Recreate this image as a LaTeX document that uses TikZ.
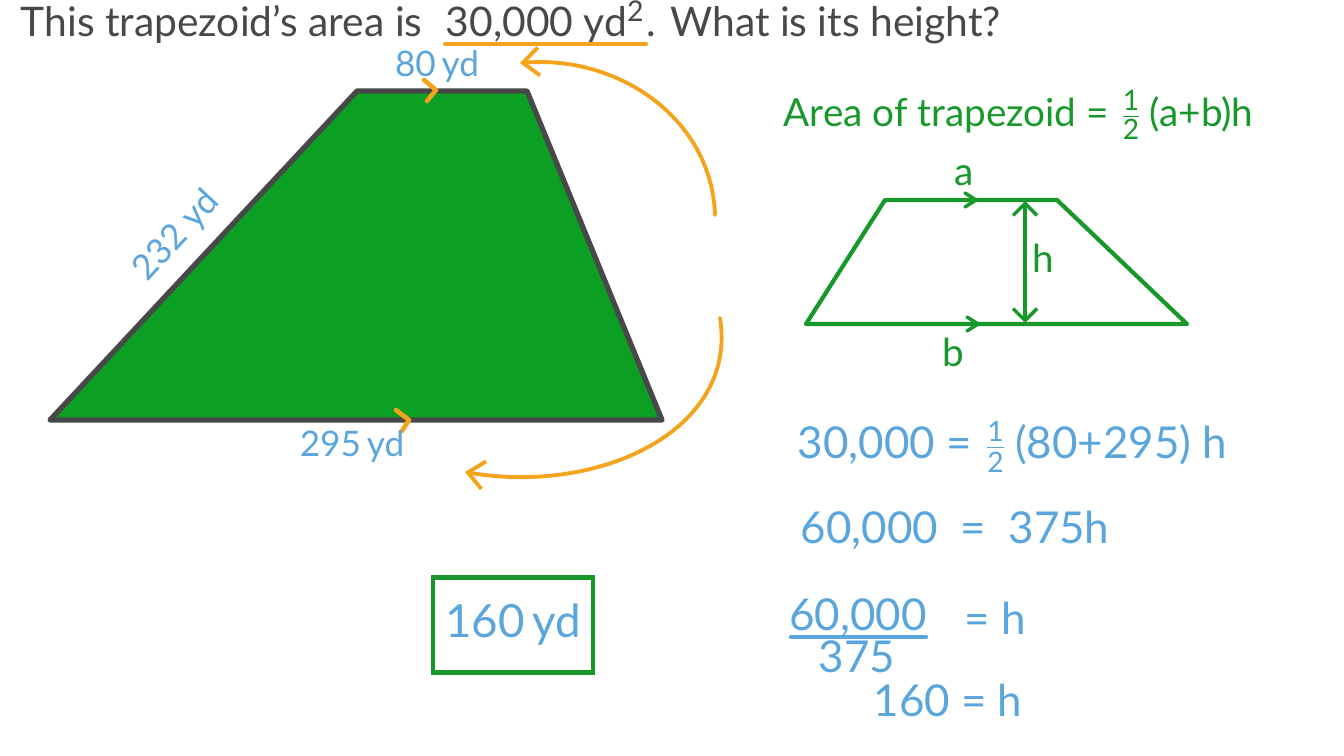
\documentclass[tikz,border=0pt]{standalone}
\usepackage{fontspec}
\setmainfont{Lato}
\usetikzlibrary{arrows.meta,positioning}
\definecolor{inkgray}{RGB}{72,72,72}
\definecolor{fillgreen}{RGB}{11,160,36}
\definecolor{inkgreen}{RGB}{24,152,42}
\definecolor{inkblue}{RGB}{90,165,220}
\definecolor{inkorange}{RGB}{244,164,28}
\tikzset{
	bluetxt/.style={text=inkblue, inner sep=0pt, font=\fontsize{10}{12}\selectfont},
	greentxt/.style={text=inkgreen, inner sep=0pt, font=\fontsize{11}{13}\selectfont},
	eqtxt/.style={text=inkblue, inner sep=0pt, font=\fontsize{12.5}{14}\selectfont},
	titletxt/.style={anchor=base west, inner sep=0pt, text=inkgray, font=\fontsize{11.6}{14}\selectfont},
	parmark/.style={line width=1.3pt, line cap=round, line join=round},
}
\newcommand{\halffrac}{$\frac{\mbox{\footnotesize 1}}{\mbox{\footnotesize 2}}$}
\begin{document}
\begin{tikzpicture}[x=0.1mm, y=-0.1mm]
	\useasboundingbox (0,0) rectangle (1344,756);
	
	% question
	\node[titletxt] at (20,37) (title1) {This trapezoid's area is};
	\node[titletxt] at ([xshift=2.2mm]title1.base east) (title2) {30,000 yd\textsuperscript{2}};
	\node[titletxt] at (title2.base east) (title3) {. What is its height?};
	\draw[inkorange, line width=1.2pt, line cap=round] ([yshift=-0.7mm]title2.base west) -- ([yshift=-0.7mm]title2.base east);
	
	% big trapezoid
	\coordinate (tl) at (357,91);
	\coordinate (tr) at (527,91);
	\coordinate (br) at (662,420);
	\coordinate (bl) at (50,420);
	\draw[fill=fillgreen, draw=inkgray, line width=1.5pt, line join=round] (tl) -- (tr) -- (br) -- (bl) -- cycle;
	\draw[parmark, inkorange] (424,80) -- (436,90) -- (427,101);
	\draw[parmark, inkorange] (396,410) -- (409,420) -- (402,431);
	
	\node[bluetxt] at (437,67) (top) {80\,yd};
	\node[bluetxt, rotate=47] at (177,236) (side) {232 yd};
	\node[bluetxt] at (352,447) (base) {295\,yd};
	
	% orange arrows
	\coordinate (up0) at (715,215);
	\coordinate (up1) at (520,63);
	\coordinate (dn0) at (720,318);
	\coordinate (dn1) at (465,472);
	\draw[inkorange, line width=1.1pt, line cap=round, -{Straight Barb[length=1.6mm, width=2.8mm]}] (up0) .. controls (712,120) and (620,55) .. (up1);
	\draw[inkorange, line width=1.1pt, line cap=round, -{Straight Barb[length=1.6mm, width=2.8mm]}] (dn0) .. controls (738,430) and (600,495) .. (dn1);
	
	% formula
	\node[greentxt, anchor=west] at (783,115) (formula) {Area of trapezoid = \halffrac\,(a+b)h};
	
	% small trapezoid
	\coordinate (sa) at (885,200);
	\coordinate (sb) at (1057,200);
	\coordinate (sc) at (1187,324);
	\coordinate (sd) at (806,324);
	\draw[inkgreen, line width=1.2pt, line join=round] (sa) -- (sb) -- (sc) -- (sd) -- cycle;
	\draw[parmark, inkgreen, line width=1pt] (965,193) -- (976,200) -- (965,207);
	\draw[parmark, inkgreen, line width=1pt] (967,317) -- (978,324) -- (967,331);
	\coordinate (htop) at (1025,201);
	\coordinate (hbot) at (1025,323);
	\draw[inkgreen, line width=1pt, {Straight Barb[length=1.2mm, width=2.4mm]}-{Straight Barb[length=1.2mm, width=2.4mm]}] (htop) -- (hbot);
	\node[greentxt] at (964,176) (la) {a};
	\node[greentxt] at (953,352) (lb) {b};
	\node[greentxt] at (1043,258) (lh) {h};
	
	% working
	\node[eqtxt, anchor=west] at (797,447) (eq1) {30,000 = \halffrac\,(80+295) h};
	\node[eqtxt, anchor=west] at (800,530) (eq2) {60,000 \ = \ 375h};
	\node[eqtxt] at (858,618) (fracnum) {60,000};
	\node[eqtxt] at (857,657) (fracden) {375};
	\draw[inkblue, line width=1.2pt, line cap=round] (791,637) -- (926,637);
	\node[eqtxt] at (995,618) (eq3) {= h};
	\node[eqtxt] at (948,700) (eq4) {160 = h};
	
	% answer
	\node[draw=inkgreen, line width=1.2pt, minimum width=16mm, minimum height=9.5mm, text=inkblue, font=\fontsize{13}{15}\selectfont] at (513,625) (answer) {160\,yd};
	
\end{tikzpicture}
\end{document}
